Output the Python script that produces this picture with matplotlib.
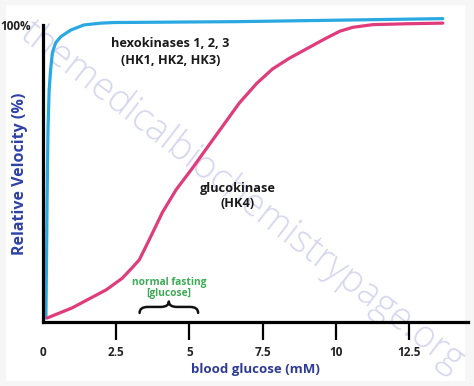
import matplotlib
matplotlib.use("Agg")
import matplotlib.pyplot as plt
from matplotlib.path import Path
from matplotlib.patches import PathPatch

# ---- data ----
hk_x = [0.10, 0.12, 0.14, 0.17, 0.21, 0.26, 0.32, 0.43, 0.61, 0.95, 1.40, 1.98, 2.43, 6.7, 13.66]
hk_y = [1.3, 20.0, 40.7, 64.0, 77.3, 84.0, 89.7, 93.0, 95.1, 97.3, 99.0, 99.6, 99.8, 100.1, 101.1]

gk_x = [0.14, 1.0, 2.16, 2.7, 3.05, 3.29, 3.63, 4.08, 4.55, 5.07, 5.86, 6.71, 7.3, 7.84, 8.4, 9.0, 9.6, 10.14, 10.58, 11.27, 12.5, 13.66]
gk_y = [1.3, 4.7, 10.7, 14.5, 18.1, 20.7, 27.4, 36.5, 44.1, 50.8, 61.5, 73.0, 79.5, 84.3, 87.8, 91.0, 94.2, 96.9, 98.2, 99.1, 99.4, 99.6]

x_ticks = [2.5, 5, 7.5, 10, 12.5]
x_tick_labels = ["2.5", "5", "7.5", "10", "12.5"]
fasting_range = [3.3, 5.3]

FONT = ["Open Sans", "DejaVu Sans"]
plt.rcParams['font.family'] = FONT

fig = plt.figure(figsize=(4.74, 3.86), dpi=100, facecolor="#f6f6f6")
# white panel inside a light grey frame
fig.patches.append(plt.Rectangle((0.012, 0.012), 0.968, 0.976, transform=fig.transFigure,
                                 facecolor="white", edgecolor="none", zorder=0))
ax = fig.add_axes([0.0907, 0.166, 0.8966, 0.8005])
ax.set_facecolor("none")
ax.set_zorder(1)

# watermark
fig.text(0.51, 0.49, "themedicalbiochemistrypage.org", rotation=-37.7,
         ha="center", va="center", fontsize=27, color="#d6d6ef",
         fontweight="light", zorder=0.5)

ax.plot(hk_x, hk_y, color="#2aa8e2", lw=2.3, solid_capstyle="round", solid_joinstyle="round")
ax.plot(gk_x, gk_y, color="#e03c7c", lw=2.3, solid_capstyle="round", solid_joinstyle="round")

ax.set_xlim(0, 14.52)
ax.set_ylim(0, 103)

for s in ["top", "right"]:
    ax.spines[s].set_visible(False)
ax.spines["left"].set_linewidth(2.3)
ax.spines["bottom"].set_linewidth(2.3)
ax.spines["left"].set_bounds(0, 99.0)

ax.set_xticks([0] + x_ticks)
ax.set_xticklabels(["0"] + x_tick_labels, fontsize=8.5, fontweight="bold", color="#222222")
ax.tick_params(axis="x", direction="out", length=13, width=1.6, pad=4)
ax.xaxis.get_major_ticks()[0].tick1line.set_visible(False)

ax.set_yticks([99.0])
ax.set_yticklabels(["100%"], fontsize=8.5, fontweight="bold", color="#222222")
ax.tick_params(axis="y", length=0, pad=9)

ax.set_xlabel("blood glucose (mM)", fontsize=9.5, fontweight="bold", color="#2e3a94", labelpad=3)
ax.set_ylabel("Relative Velocity (%)", fontsize=11.5, fontweight="bold", color="#2e41a6")
ax.yaxis.set_label_coords(-0.035, 0.48)

ax.text(4.35, 90.0, "hexokinases 1, 2, 3\n(HK1, HK2, HK3)", ha="center", va="center",
        fontsize=9.2, fontweight="bold", color="#1a1a1a", linespacing=1.35)
ax.text(6.65, 42, "glucokinase\n(HK4)", ha="center", va="center",
        fontsize=9.2, fontweight="bold", color="#1a1a1a", linespacing=1.25)
ax.text(sum(fasting_range) / 2, 11.3, "normal fasting\n[glucose]", ha="center", va="center",
        fontsize=7.3, fontweight="bold", color="#3daa55", linespacing=1.05)

# brace
x0, x1 = fasting_range
xm = (x0 + x1) / 2
w = 0.28
y_end, y_bar, y_tip = 3.0, 5.0, 6.8
verts = [(x0, y_end), (x0, y_bar), (x0 + w, y_bar),
         (xm - w, y_bar),
         (xm, y_bar), (xm, y_tip),
         (xm, y_bar), (xm + w, y_bar),
         (x1 - w, y_bar),
         (x1, y_bar), (x1, y_end)]
codes = [Path.MOVETO, Path.CURVE3, Path.CURVE3,
         Path.LINETO,
         Path.CURVE3, Path.CURVE3,
         Path.CURVE3, Path.CURVE3,
         Path.LINETO,
         Path.CURVE3, Path.CURVE3]
ax.add_patch(PathPatch(Path(verts, codes), facecolor="none", edgecolor="#111111",
                       lw=1.8, capstyle="round", joinstyle="round", clip_on=False))

fig.savefig("out.png", dpi=100, facecolor=fig.get_facecolor())
